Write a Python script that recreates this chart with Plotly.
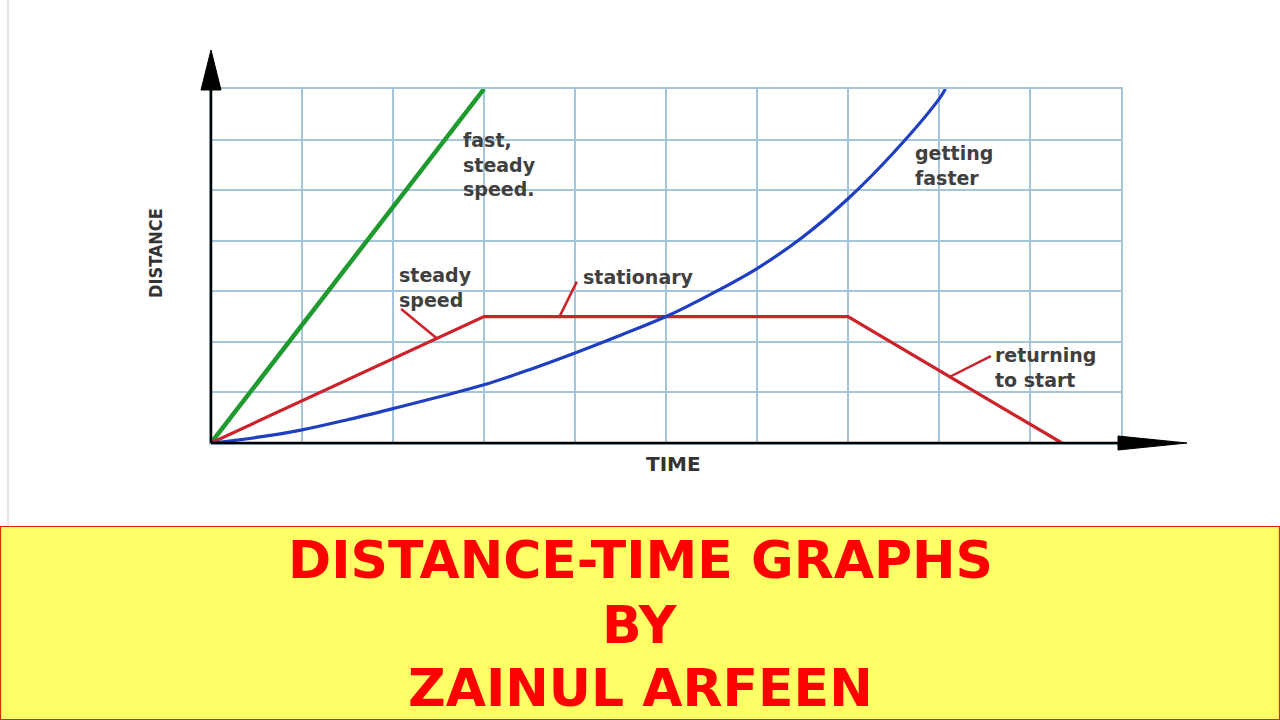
import plotly.graph_objects as go

# ---- data ----
fast_x = [0, 3]
fast_y = [0, 7]

steady_x = [0, 3, 7, 9.35]
steady_y = [0, 2.5, 2.5, 0]

accel_x = [0, 0.5, 1, 1.5, 2, 2.5, 3, 3.5, 4, 4.5, 5, 5.5, 6, 6.5, 7, 7.5, 8, 8.07]
accel_y = [0, 0.11, 0.26, 0.46, 0.68, 0.91, 1.15, 1.45, 1.78, 2.13, 2.5, 2.95, 3.45, 4.07, 4.83, 5.74, 6.8, 7.0]

x_title = "TIME"
y_title = "DISTANCE"
labels = ["fast,<br>steady<br>speed.", "steady<br>speed", "stationary", "getting<br>faster", "returning<br>to start"]
title_lines = ["DISTANCE-TIME GRAPHS", "BY", "ZAINUL ARFEEN"]

W, H = 1280, 720
L, R, T, B = 211, 1121, 89, 443  # plot area pixels


def px(x):
    return (x - L) / (R - L)


def py(y):
    return (B - y) / (B - T)


fig = go.Figure()
fig.add_trace(go.Scatter(x=fast_x, y=fast_y, mode="lines",
                         line=dict(color="#1f9a2e", width=4.5), hoverinfo="skip"))
fig.add_trace(go.Scatter(x=steady_x, y=steady_y, mode="lines",
                         line=dict(color="#cc2229", width=3.2), hoverinfo="skip"))
fig.add_trace(go.Scatter(x=accel_x, y=accel_y, mode="lines",
                         line=dict(color="#1f3fc0", width=3.2, shape="spline", smoothing=1), hoverinfo="skip"))

grid = "#a3c6dc"
axis_common = dict(showgrid=True, gridcolor=grid, gridwidth=2, dtick=1, tick0=0,
                   showticklabels=False, ticks="", zeroline=False,
                   showline=True, mirror=True, linecolor=grid, linewidth=2, fixedrange=True)
fig.update_layout(
    width=W, height=H,
    margin=dict(l=L, r=W - R, t=T, b=H - B, pad=0),
    paper_bgcolor="white", plot_bgcolor="white",
    showlegend=False,
    xaxis=dict(range=[0, 10], **axis_common),
    yaxis=dict(range=[0, 7], **axis_common),
)

shapes = []
# thin left border of image region
shapes.append(dict(type="line", xref="paper", yref="paper", x0=px(8), x1=px(8), y0=py(0), y1=py(526),
                   line=dict(color="#d0d0d0", width=1)))
# black axes
shapes.append(dict(type="line", xref="paper", yref="paper", x0=0, x1=0, y0=0, y1=py(62),
                   line=dict(color="black", width=2.5)))
shapes.append(dict(type="line", xref="paper", yref="paper", x0=0, x1=px(1125), y0=0, y1=0,
                   line=dict(color="black", width=2.5)))
# arrow heads
shapes.append(dict(type="path", xref="paper", yref="paper",
                   path=f"M {px(201)} {py(90)} L {px(211)} {py(50)} L {px(221)} {py(90)} Z",
                   fillcolor="black", line=dict(color="black", width=1)))
shapes.append(dict(type="path", xref="paper", yref="paper",
                   path=f"M {px(1118)} {py(436)} L {px(1187)} {py(443)} L {px(1118)} {py(450)} Z",
                   fillcolor="black", line=dict(color="black", width=1)))
# pointer lines
ptr = dict(color="#cc2229", width=2.5)
shapes.append(dict(type="line", xref="x", yref="y", x0=2.09, y0=2.65, x1=2.48, y1=2.07, line=ptr))
shapes.append(dict(type="line", xref="x", yref="y", x0=4.02, y0=3.19, x1=3.83, y1=2.5, line=ptr))
shapes.append(dict(type="line", xref="x", yref="y", x0=8.57, y0=1.72, x1=8.12, y1=1.31, line=ptr))
# yellow title box
shapes.append(dict(type="rect", xref="paper", yref="paper",
                   x0=px(0.5), x1=px(1279.5), y0=py(526.5), y1=py(719.5),
                   fillcolor="#ffff66", line=dict(color="#cc3300", width=1.2), layer="above"))
fig.update_layout(shapes=shapes)

lab_font = dict(family="DejaVu Sans, sans-serif", size=19, color="#404040", weight="bold")
label_pos = [(2.75, 5.5), (2.04, 3.08), (4.07, 3.28), (7.71, 5.48), (8.59, 1.5)]
ann = []
for t, (x, y) in zip(labels, label_pos):
    ann.append(dict(x=x, y=y, xref="x", yref="y", text=t, showarrow=False,
                    xanchor="left", yanchor="middle", align="left", font=lab_font))

ann.append(dict(x=px(673), y=py(464), xref="paper", yref="paper", text=x_title, showarrow=False,
                xanchor="center", yanchor="middle",
                font=dict(family="DejaVu Sans, sans-serif", size=20, color="#333333", weight="bold")))
ann.append(dict(x=px(156), y=py(253), xref="paper", yref="paper", text=y_title, showarrow=False,
                xanchor="center", yanchor="middle", textangle=-90,
                font=dict(family="DejaVu Sans Condensed, DejaVu Sans, sans-serif", size=18,
                          color="#333333", weight="bold")))

title_font = dict(family="DejaVu Sans, sans-serif", size=52, color="#ff0000", weight="bold")
for t, yc in zip(title_lines, [560, 625, 688]):
    ann.append(dict(x=px(640), y=py(yc), xref="paper", yref="paper", text=t,
                    showarrow=False, xanchor="center", yanchor="middle", font=title_font))
fig.update_layout(annotations=ann)

fig.write_html("out.html", config={"displayModeBar": False},
               post_script="document.body.style.margin='0';document.body.style.overflow='hidden';")
